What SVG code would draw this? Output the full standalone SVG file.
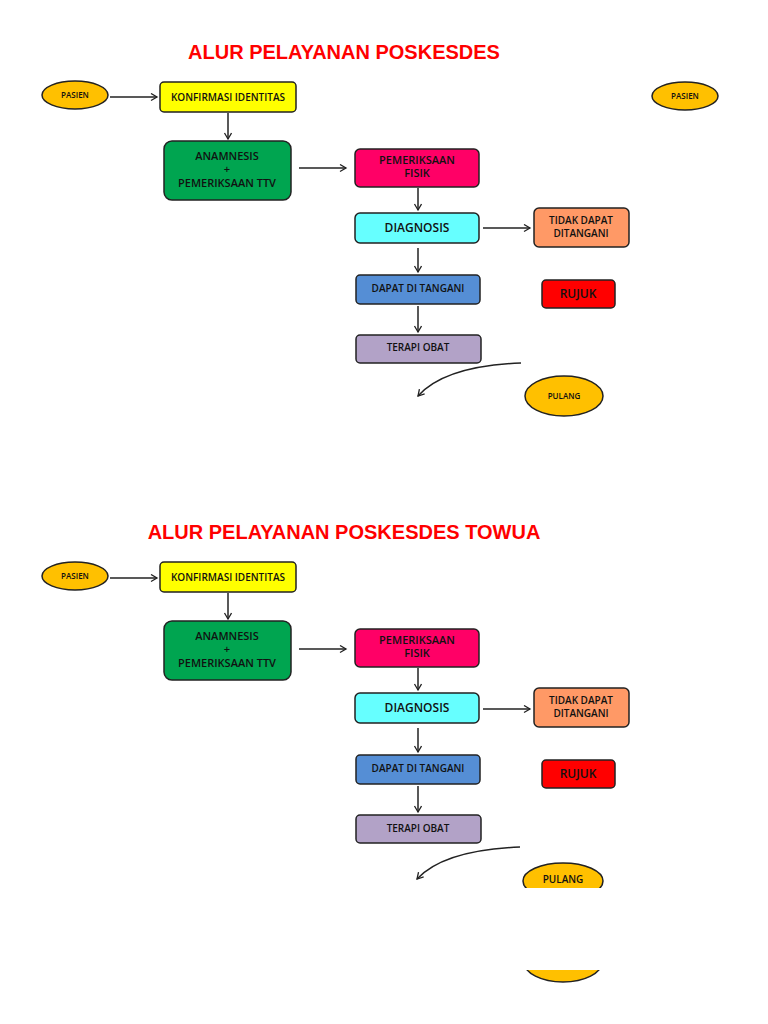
<svg xmlns="http://www.w3.org/2000/svg" width="768" height="1024" viewBox="0 0 768 1024">
<defs>
<style>
.t{font-family:"Open Sans","Liberation Sans",sans-serif;fill:#111;text-anchor:middle;font-weight:600}
.title{font-family:"Liberation Sans",sans-serif;font-weight:bold;font-size:20px;fill:#ff0000;text-anchor:middle}
.b{stroke:#222;stroke-width:1.5}
.c{fill:none;stroke:#222;stroke-width:1.5;marker-end:url(#ah)}
</style>
<marker id="ah" markerWidth="10" markerHeight="10" refX="7" refY="4" orient="auto" markerUnits="userSpaceOnUse"><path d="M1,0.5 L7,4 L1,7.5" fill="none" stroke="#222" stroke-width="1.3"/></marker>
<clipPath id="ctop"><rect x="500" y="850" width="120" height="38"/></clipPath>
<clipPath id="cbot"><rect x="500" y="970" width="120" height="30"/></clipPath>
</defs>
<rect width="768" height="1024" fill="#fff"/>
<text class="title" x="344" y="59">ALUR PELAYANAN POSKESDES</text>
<g id="pasien1"><ellipse class="b" cx="75" cy="95" rx="33" ry="14" fill="#ffc000"/><text class="t" x="75" y="98" font-size="8">PASIEN</text></g>
<g id="konfirmasi1"><rect class="b" x="160" y="82" width="136" height="30" rx="4" fill="#ffff00"/><text class="t" x="228" y="101" font-size="10">KONFIRMASI IDENTITAS</text></g>
<g id="anamnesis1"><rect class="b" x="164" y="141" width="127" height="59" rx="8" fill="#00a550"/><text class="t" x="227" y="160" font-size="11">ANAMNESIS</text><text class="t" x="227" y="173" font-size="11">+</text><text class="t" x="227" y="187" font-size="11">PEMERIKSAAN TTV</text></g>
<g id="fisik1"><rect class="b" x="355" y="149" width="124" height="38" rx="5" fill="#ff0066"/><text class="t" x="417" y="164" font-size="11">PEMERIKSAAN</text><text class="t" x="417" y="177" font-size="11">FISIK</text></g>
<g id="diagnosis1"><rect class="b" x="355" y="213" width="124" height="30" rx="5" fill="#66ffff"/><text class="t" x="417" y="232" font-size="12">DIAGNOSIS</text></g>
<g id="tidak1"><rect class="b" x="534" y="208" width="95" height="39" rx="5" fill="#ff9966"/><text class="t" x="581" y="224" font-size="10">TIDAK DAPAT</text><text class="t" x="581" y="237" font-size="10">DITANGANI</text></g>
<g id="dapat1"><rect class="b" x="356" y="275" width="124" height="29" rx="4" fill="#558ed5"/><text class="t" x="418" y="292" font-size="10">DAPAT DI TANGANI</text></g>
<g id="rujuk1"><rect class="b" x="542" y="280" width="73" height="28" rx="4" fill="#ff0000"/><text class="t" x="578" y="298" font-size="12">RUJUK</text></g>
<g id="terapi1"><rect class="b" x="356" y="335" width="125" height="28" rx="4" fill="#b2a2c7"/><text class="t" x="418" y="351" font-size="10">TERAPI OBAT</text></g>
<g id="pulang1"><ellipse class="b" cx="564" cy="396" rx="39" ry="20" fill="#ffc000"/><text class="t" x="564" y="399" font-size="8">PULANG</text></g>
<g id="pasien2r"><ellipse class="b" cx="685" cy="96" rx="33" ry="14" fill="#ffc000"/><text class="t" x="685" y="99" font-size="8">PASIEN</text></g>

<text class="title" x="344" y="539">ALUR PELAYANAN POSKESDES TOWUA</text>
<g id="pasien3"><ellipse class="b" cx="75" cy="576" rx="33" ry="14" fill="#ffc000"/><text class="t" x="75" y="579" font-size="8">PASIEN</text></g>
<g id="konfirmasi2"><rect class="b" x="160" y="562" width="136" height="30" rx="4" fill="#ffff00"/><text class="t" x="228" y="581" font-size="10">KONFIRMASI IDENTITAS</text></g>
<g id="anamnesis2"><rect class="b" x="164" y="621" width="127" height="59" rx="8" fill="#00a550"/><text class="t" x="227" y="640" font-size="11">ANAMNESIS</text><text class="t" x="227" y="653" font-size="11">+</text><text class="t" x="227" y="667" font-size="11">PEMERIKSAAN TTV</text></g>
<g id="fisik2"><rect class="b" x="355" y="629" width="124" height="38" rx="5" fill="#ff0066"/><text class="t" x="417" y="644" font-size="11">PEMERIKSAAN</text><text class="t" x="417" y="657" font-size="11">FISIK</text></g>
<g id="diagnosis2"><rect class="b" x="355" y="693" width="124" height="30" rx="5" fill="#66ffff"/><text class="t" x="417" y="712" font-size="12">DIAGNOSIS</text></g>
<g id="tidak2"><rect class="b" x="534" y="688" width="95" height="39" rx="5" fill="#ff9966"/><text class="t" x="581" y="704" font-size="10">TIDAK DAPAT</text><text class="t" x="581" y="717" font-size="10">DITANGANI</text></g>
<g id="dapat2"><rect class="b" x="356" y="755" width="124" height="29" rx="4" fill="#558ed5"/><text class="t" x="418" y="772" font-size="10">DAPAT DI TANGANI</text></g>
<g id="rujuk2"><rect class="b" x="542" y="760" width="73" height="28" rx="4" fill="#ff0000"/><text class="t" x="578" y="778" font-size="12">RUJUK</text></g>
<g id="terapi2"><rect class="b" x="356" y="815" width="125" height="28" rx="4" fill="#b2a2c7"/><text class="t" x="418" y="832" font-size="10">TERAPI OBAT</text></g>
<g id="pulang2"><ellipse class="b" cx="563" cy="881" rx="40" ry="18" fill="#ffc000" clip-path="url(#ctop)"/><ellipse class="b" cx="563" cy="962" rx="39" ry="20" fill="#ffc000" clip-path="url(#cbot)"/><text class="t" x="563" y="883" font-size="10">PULANG</text></g>

<g id="connectors">
<path class="c" d="M110,97 H157"/>
<path class="c" d="M228,113 V139"/>
<path class="c" d="M299,168 H346"/>
<path class="c" d="M418,188 V210"/>
<path class="c" d="M483,228 H530"/>
<path class="c" d="M418,248 V272"/>
<path class="c" d="M418,306 V332"/>
<path class="c" d="M521,363 Q445,366 418,396"/>
<path class="c" d="M110,578 H157"/>
<path class="c" d="M228,593 V619"/>
<path class="c" d="M299,649 H346"/>
<path class="c" d="M418,668 V690"/>
<path class="c" d="M483,709 H530"/>
<path class="c" d="M418,728 V752"/>
<path class="c" d="M418,786 V812"/>
<path class="c" d="M520,847 Q444,850 417,879"/>
</g>
</svg>
